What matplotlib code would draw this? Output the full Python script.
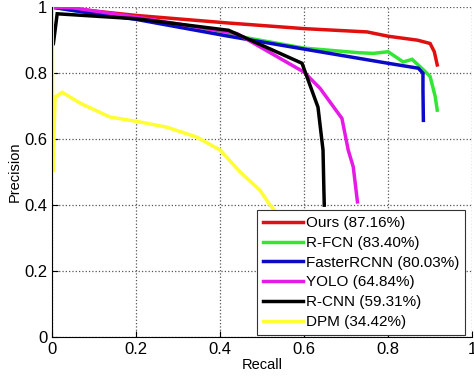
import matplotlib.pyplot as plt

plt.rcParams['font.family'] = ['Liberation Sans', 'DejaVu Sans']

# PR curves (recall, precision)
ours_r = [0.0, 0.05, 0.2, 0.42, 0.6, 0.75, 0.8, 0.87, 0.9, 0.91, 0.917]
ours_p = [1.0, 0.995, 0.975, 0.952, 0.935, 0.925, 0.912, 0.9, 0.89, 0.865, 0.825]

rfcn_r = [0.0, 0.05, 0.2, 0.42, 0.6, 0.73, 0.765, 0.8, 0.836, 0.857, 0.88, 0.9, 0.912, 0.917]
rfcn_p = [1.0, 0.99, 0.965, 0.917, 0.876, 0.862, 0.86, 0.865, 0.834, 0.842, 0.815, 0.79, 0.73, 0.688]

frcnn_r = [0.0, 0.05, 0.2, 0.42, 0.6, 0.8, 0.872, 0.883, 0.883, 0.884]
frcnn_p = [1.0, 0.99, 0.963, 0.912, 0.873, 0.83, 0.815, 0.8, 0.748, 0.657]

yolo_r = [0.0, 0.05, 0.2, 0.44, 0.6, 0.638, 0.69, 0.705, 0.717, 0.727]
yolo_p = [1.0, 0.998, 0.97, 0.92, 0.803, 0.754, 0.663, 0.567, 0.516, 0.41]

rcnn_r = [0.003, 0.012, 0.2, 0.42, 0.595, 0.633, 0.645, 0.647, 0.648]
rcnn_p = [0.89, 0.98, 0.965, 0.93, 0.83, 0.697, 0.567, 0.45, 0.4]

dpm_r = [0.0, 0.002, 0.007, 0.024, 0.067, 0.138, 0.21, 0.274, 0.345, 0.4, 0.448, 0.495, 0.519, 0.56]
dpm_p = [1.0, 0.5, 0.727, 0.742, 0.709, 0.667, 0.652, 0.636, 0.606, 0.567, 0.5, 0.445, 0.4, 0.34]

labels = ['Ours (87.16%)', 'R-FCN (83.40%)', 'FasterRCNN (80.03%)',
          'YOLO (64.84%)', 'R-CNN (59.31%)', 'DPM (34.42%)']
colors = ['#e01010', '#33e633', '#0a0ac8', '#e619e6', '#000000', '#ffff33']

fig = plt.figure(figsize=(4.74, 3.78), dpi=100)
ax = fig.add_axes([0.110, 0.108, 0.886, 0.873])

curves = [(ours_r, ours_p), (rfcn_r, rfcn_p), (frcnn_r, frcnn_p),
          (yolo_r, yolo_p), (rcnn_r, rcnn_p), (dpm_r, dpm_p)]
for (r, p), lab, c in zip(curves, labels, colors):
    ax.plot(r, p, color=c, lw=2.5, label=lab, solid_joinstyle='miter')

ax.set_xlim(0, 1)
ax.set_ylim(0, 1)
ax.set_xticks([0, 0.2, 0.4, 0.6, 0.8, 1])
ax.set_yticks([0, 0.2, 0.4, 0.6, 0.8, 1])
ax.set_xticklabels(['0', '0.2', '0.4', '0.6', '0.8', '1'])
ax.set_yticklabels(['0', '0.2', '0.4', '0.6', '0.8', '1'])
ax.tick_params(direction='in', labelsize=12, length=4, width=0.8)
ax.grid(True, linestyle=':', color='#555555', lw=0.9)
ax.spines['top'].set_visible(False)
ax.spines['right'].set_visible(False)
ax.set_xlabel('Recall', fontsize=10.5, labelpad=1)
ax.set_ylabel('Precision', fontsize=10.5, labelpad=2)

leg = ax.legend(loc='lower right', bbox_to_anchor=(0.984, 0.006),
                fontsize=11, frameon=True, fancybox=False,
                edgecolor='#333333', framealpha=1, handlelength=2.6,
                handletextpad=0.2, labelspacing=0.38, borderpad=0.4,
                borderaxespad=0)
leg.get_frame().set_linewidth(0.8)

plt.savefig('out.png', dpi=100)
plt.close()
